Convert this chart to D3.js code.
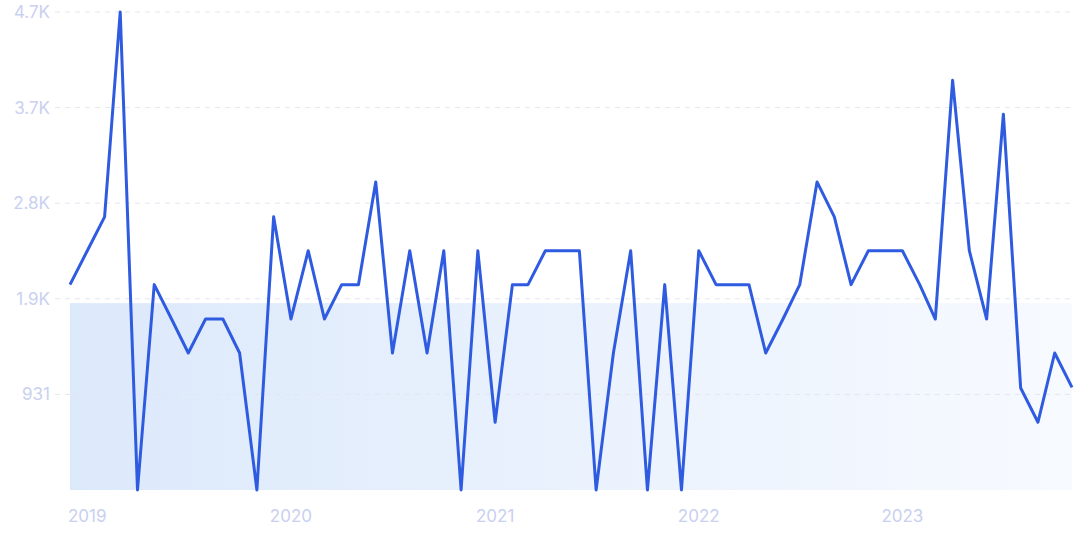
<!DOCTYPE html>
<html><head><meta charset="utf-8">
<script src="https://cdn.jsdelivr.net/npm/d3@7.9.0/dist/d3.min.js"></script>
<style>body{margin:0;background:#fff;font-family:Inter,"Noto Sans",sans-serif}</style>
</head><body><svg id="chart" width="1075" height="537"></svg>
<script>
// monthly values, Dec 2018 .. Nov 2023
const values = [2000,2330,2660,4655,0,2000,1665,1334,1665,1665,1334,0,
  2660,1665,2330,1665,2000,2000,3000,1334,2330,1334,2330,0,
  2330,660,2000,2000,2330,2330,2330,0,1334,2330,0,2000,
  0,2330,2000,2000,2000,1334,1665,2000,3000,2660,2000,2330,
  2330,2330,2000,1665,3990,2330,1665,3660,993,660,1334,1000];
const startDate = new Date(2018, 11, 1);
const dates = values.map((v, i) => d3.timeMonth.offset(startDate, i));
const yTicks = [931, 1862, 2793, 3724, 4655];
const yLabels = ['931', '1.9K', '2.8K', '3.7K', '4.7K'];
const xTicks = [2019, 2020, 2021, 2022, 2023];
const bandValue = 1820;

const svg = d3.select('#chart');
const x = d3.scaleTime().domain([dates[0], dates[dates.length - 1]]).range([70, 1072]);
const y = d3.scaleLinear().domain([0, 4655]).range([490, 12]);

const grad = svg.append('defs').append('linearGradient').attr('id', 'g');
grad.append('stop').attr('offset', '0%').attr('stop-color', '#dce9fb');
grad.append('stop').attr('offset', '100%').attr('stop-color', '#f7faff');

svg.append('rect').attr('x', 70).attr('width', 1002)
  .attr('y', y(bandValue)).attr('height', y(0) - y(bandValue)).attr('fill', 'url(#g)');

svg.append('g').selectAll('line').data(yTicks).join('line')
  .attr('x1', 55).attr('x2', 1075).attr('y1', d => y(d)).attr('y2', d => y(d))
  .attr('stroke', '#e3e6ee').attr('stroke-dasharray', '5,5');

svg.append('g').selectAll('text').data(yTicks).join('text')
  .attr('x', 50).attr('y', d => y(d) + 6).attr('text-anchor', 'end')
  .attr('font-size', 17).attr('fill', '#c9d0f0').text((d, i) => yLabels[i]);

svg.append('g').selectAll('text').data(xTicks).join('text')
  .attr('x', d => x(new Date(d, 0, 1))).attr('y', 522).attr('text-anchor', 'middle')
  .attr('font-size', 17).attr('fill', '#c9d0f0').text(d => d);

svg.append('path').datum(values)
  .attr('d', d3.line().x((d, i) => x(dates[i])).y(d => y(d)))
  .attr('fill', 'none').attr('stroke', '#2f5be0').attr('stroke-width', 3)
  .attr('stroke-linejoin', 'round');
</script></body></html>
